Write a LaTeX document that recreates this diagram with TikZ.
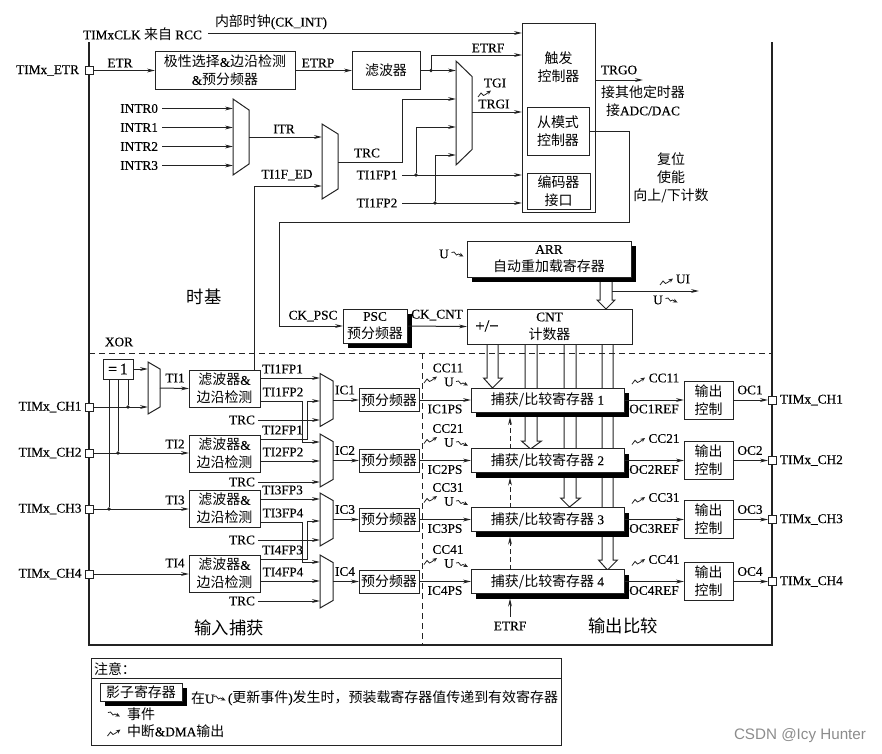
\documentclass[tikz,border=0pt]{standalone}
\usepackage{fontspec}
\setmainfont[FakeBold=0.25]{Liberation Serif}
\newfontfamily\cjk[Scale=1.05]{Noto Sans CJK SC}
\newfontfamily\wmfont{Liberation Sans}
\usetikzlibrary{arrows.meta,shadows}
\definecolor{ink}{RGB}{35,35,35}
\definecolor{wmark}{RGB}{140,140,140}
\newcommand{\zh}[1]{{\cjk #1}}
\tikzset{
  lbl/.style={inner sep=0pt, outer sep=0pt, align=center, text=black, font=\fontsize{13.3}{18}\selectfont},
  ttl/.style={lbl, font=\fontsize{16.5}{20}\selectfont},
  big/.style={lbl, font=\fontsize{16.5}{20}\selectfont},
  wire/.style={ink, line width=1pt},
  sig/.style={wire, -{Stealth[length=8pt,width=3.8pt]}},
  dsig/.style={sig, dashed, dash pattern=on 5pt off 3pt},
  frame/.style={ink, line width=1.3pt},
  dsh/.style={ink, line width=1pt, dash pattern=on 6pt off 4pt},
  blk/.style={lbl, draw=ink, line width=1pt, fill=white},
  shd/.style={blk, drop shadow={shadow xshift=5pt, shadow yshift=-5pt, opacity=1, fill=black}},
  pinbox/.style={draw=ink, line width=1pt, fill=white, inner sep=0pt, outer sep=0pt, minimum size=8pt},
  dotn/.style={circle, fill=ink, inner sep=0pt, outer sep=0pt, minimum size=3.8pt},
  mux/.style={draw=ink, line width=1pt, fill=white},
  icon/.style={ink, line width=0.8pt, -{Stealth[length=4.5pt,width=4pt]}},
}
\newcommand{\muxshape}[5]{%
  \draw[mux] (#1,#3-#4) -- (#2,#3-#5) -- (#2,#3+#5) -- (#1,#3+#4) -- cycle;}
\newcommand{\evtsym}[2]{%
  \draw[icon, shift={(#1,#2)}] (-6,-1.5) -- (-3.5,-2) -- (-1,1) -- (1,0) -- (6,2.5);}
\newcommand{\intsym}[2]{%
  \draw[icon, shift={(#1,#2)}] (-6.5,3) -- (-3.5,-1) -- (-1,1.5) -- (1,0.5) -- (6.5,-3.5);}
\newcommand{\busarr}[4]{%
  \coordinate (bs) at (#1,344);
  \draw[wire] (bs) -- (#1,#3) -- (#1-3.5,#3) -- (#1+5.5,#4) -- (#2+4.5,#3) -- (#2,#3) -- (#2,344);}

\begin{document}
\begin{tikzpicture}[x=1pt, y=-1pt]
  \useasboundingbox (0,0) rectangle (882,753);
  \coordinate (fl) at (89,42); \coordinate (bl) at (89,645);
  \coordinate (br) at (772,645); \coordinate (fr) at (772,42);
  \draw[frame] (fl) -- (bl) -- (br) -- (fr);
  \coordinate (dl) at (89,353); \coordinate (dr) at (772,353);
  \coordinate (dt) at (422,353); \coordinate (db) at (422,645);
  \draw[dsh] (dl) -- (dr);
  \draw[dsh] (dt) -- (db);

  \node[lbl] (clk) at (142.5,34) {TIMxCLK \zh{来自} RCC};
  \node[lbl] (ckint) at (271,22) {\zh{内部时钟}(CK\_INT)};
  \node[blk, minimum width=73, minimum height=189] (trg) at (558.5,117.5) {};
  \node[lbl] (trgtxt) at (558.5,67.5) {\zh{触发}\\\zh{控制器}};
  \node[blk, minimum width=62, minimum height=48] (slv) at (558,131) {\zh{从模式}\\\zh{控制器}};
  \node[blk, minimum width=63, minimum height=36] (enc) at (558.5,191) {\zh{编码器}\\\zh{接口}};
  \coordinate (clks) at (208,33);
  \draw[sig] (clks) -- (clks -| trg.west);

  \node[pinbox] (pine) at (89,70.5) {};
  \node[lbl, anchor=east] (etrpin) at (79,70.5) {TIMx\_ETR};
  \node[blk, minimum width=140, minimum height=38] (pol) at (225,70.5) {\zh{极性选择}\&\zh{边沿检测}\\\&\zh{预分频器}};
  \node[blk, minimum width=68, minimum height=38] (flt) at (386,70.5) {\zh{滤波器}};
  \node[lbl] (etr) at (120,63) {ETR};
  \node[lbl] (etrp) at (318,63) {ETRP};
  \node[lbl] (etrf1) at (488,48) {ETRF};
  \draw[sig] (pine.east) -- (pol.west);
  \draw[sig] (pol.east) -- (flt.west);
  \coordinate (mtin) at (456,113);
  \node[dotn] (detr) at (431,70.5) {};
  \coordinate (etrfy) at (431,55);
  \draw[sig] (flt.east) -- (flt.east -| mtin);
  \draw[sig] (detr) -- (etrfy) -- (etrfy -| trg.west);

  \muxshape{456}{472}{113}{52}{36.5}
  \coordinate (mtout) at (472,112);
  \draw[sig] (mtout) -- (mtout -| trg.west);
  \node[lbl] (tgi) at (495,83) {TGI};
  \node[lbl] (trgi) at (494,104) {TRGI};
  \intsym{484.5}{94}

  \foreach \i/\yy in {0/108.5,1/127.5,2/146.5,3/165.5} {
    \node[lbl, anchor=east] (intr\i) at (158,\yy) {INTR\i};
    \coordinate (mi\i) at (233,\yy);
    \draw[sig] ([xshift=4pt]intr\i.east) -- (mi\i);
  }
  \muxshape{233}{249}{137}{38}{27}
  \coordinate (itrs) at (249,137); \coordinate (itre) at (322,137);
  \draw[sig] (itrs) -- (itre);
  \node[lbl] (itr) at (284,129) {ITR};
  \muxshape{322}{338}{161.5}{37.5}{27.5}
  \node[lbl] (ed) at (287,175) {TI1F\_ED};
  \node[lbl] (trcm) at (367,153) {TRC};
  \coordinate (m3out) at (338,162); \coordinate (trcup) at (402,99);
  \draw[sig] (m3out) -| (trcup) -- (trcup -| mtin);
  \node[lbl] (fp1) at (377,175) {TI1FP1};
  \node[lbl] (fp2) at (377,203) {TI1FP2};
  \draw[sig] ([xshift=5pt]fp1.east) -- (fp1.east -| trg.west);
  \draw[sig] ([xshift=5pt]fp2.east) -- (fp2.east -| trg.west);
  \node[dotn] (dfp1) at (416,175) {};
  \node[dotn] (dfp2) at (435,203) {};
  \coordinate (up1) at (416,127); \coordinate (up2) at (435,155);
  \draw[sig] (dfp1) -- (up1) -- (up1 -| mtin);
  \draw[sig] (dfp2) -- (up2) -- (up2 -| mtin);

  \node[lbl] (trgo) at (619,70) {TRGO};
  \coordinate (trgoe) at (643,80);
  \draw[sig] (trgoe -| trg.east) -- (trgoe);
  \node[lbl] (other) at (643,101) {\zh{接其他定时器}\\\zh{接}ADC/DAC};
  \node[lbl] (modes) at (671,178) {\zh{复位}\\\zh{使能}\\\zh{向上/下计数}};

  \node[shd, minimum width=64, minimum height=34] (psc) at (375,326) {PSC\\\zh{预分频器}};
  \node[shd, minimum width=164, minimum height=36] (arr) at (549,259) {ARR\\\zh{自动重加载寄存器}};
  \node[blk, minimum width=165, minimum height=35] (cnt) at (549.5,326.5) {CNT\\\zh{计数器}};
  \node[big] (updn) at (487,326) {+/−};
  \node[lbl] (uarr) at (444,254) {U};
  \evtsym{457.5}{254}
  \coordinate (fb1) at (629,131); \coordinate (fb2) at (629,222); \coordinate (fb3) at (279,222);
  \draw[sig] (slv.east) -- (fb1) -- (fb2) -- (fb3) |- (psc.west);
  \draw[sig] (psc.east) -- (cnt.west);
  \node[lbl] (ckpsc) at (313,316) {CK\_PSC};
  \node[lbl] (ckcnt) at (437,315) {CK\_CNT};
  \node[ttl] (tb) at (204,297) {\zh{时基}};
  \coordinate (ab) at (600,282);
  \draw[wire] (ab) -- (600,300) -- (597,300) -- (606,309) -- (615,300) -- (612,300) -- (612,282);
  \coordinate (uis) at (612,291); \coordinate (uie) at (699,291);
  \draw[sig] (uis) -- (uie);
  \node[lbl] (ui) at (683,279) {UI};
  \intsym{666.5}{282}
  \node[lbl] (ucnt) at (658,300) {U};
  \evtsym{671.5}{300}

  \node[lbl] (xorl) at (119,342) {XOR};
  \node[blk, font=\fontsize{16}{18}\selectfont, minimum width=30, minimum height=20] (xor) at (118,369) {=\,1};
  \muxshape{148}{160}{388}{26}{19}
  \coordinate (xin) at (148,388); \coordinate (xout) at (160,388);
  \draw[sig] (xor.east) -- (xor.east -| xin);
  \foreach \i/\yy in {1/388.5,2/453.5,3/508.5,4/573.5} {
    \node[blk, minimum width=71, minimum height=37] (flt\i) at (224.5,\yy) {\zh{滤波器}\&\\\zh{边沿检测}};
  }
  \foreach \i/\yy in {1/407,2/453,3/509,4/574} {
    \node[pinbox] (pinl\i) at (89,\yy) {};
    \node[lbl, anchor=east] (chl\i) at (81.5,\yy) {TIMx\_CH\i};
  }
  \foreach \i/\yy in {2/444,3/500,4/563} {
    \node[lbl] (ti\i) at (175,\yy) {TI\i};
    \draw[sig] (pinl\i.east) -- (pinl\i.east -| flt\i.west);
  }
  \node[lbl] (ti1) at (175,378) {TI1};
  \draw[sig] (pinl1.east) -- (pinl1.east -| xin);
  \draw[sig] (xout) -- (flt1.west);
  \node[dotn] (dx1) at (128,407) {};
  \node[dotn] (dx2) at (118,453) {};
  \node[dotn] (dx3) at (109,509) {};
  \foreach \i in {1,2,3} {
    \draw[wire] (dx\i |- xor.south) -- (dx\i);
  }
  \coordinate (edin) at (322,186); \coordinate (edc) at (254,186);
  \draw[sig] (edc |- flt1.north) -- (edc) -- (edin);

  \coordinate (inx) at (320,400);
  \foreach \i/\a/\b/\yu/\yd/\yc in {1/1/2/378/401/420,2/1/2/439/461/482,3/3/4/499/522/540,4/3/4/559/581/601} {
    \coordinate (ou\i) at (260,\yu);
    \coordinate (od\i) at (260,\yd);
    \node[lbl] (fa\i) at (282.5,\yu-9) {TI\i FP\a};
    \node[lbl] (fb\i) at (283,\yd-9) {TI\i FP\b};
    \node[lbl] (trc\i) at (242,\yc) {TRC};
    \draw[sig] ([xshift=3pt]trc\i.east) -- (trc\i.east -| inx);
  }
  \coordinate (cr1) at (302,442); \coordinate (cr2) at (307,401);
  \coordinate (cr3) at (302,562); \coordinate (cr4) at (307,521);
  \draw[sig] (ou1) -- (ou1 -| inx);
  \draw[sig] (od2) -- (od2 -| inx);
  \draw[sig] (ou3) -- (ou3 -| inx);
  \draw[sig] (od4) -- (od4 -| inx);
  \draw[sig] (od1) -| (cr1) -- (cr1 -| inx);
  \draw[sig] (ou2) -| (cr2) -- (cr2 -| inx);
  \draw[sig] (od3) -| (cr3) -- (cr3 -| inx);
  \draw[sig] (ou4) -| (cr4) -- (cr4 -| inx);

  \busarr{487}{498}{378}{388}
  \busarr{525}{537}{441}{449}
  \busarr{564}{576}{498}{507}
  \busarr{602}{613}{560}{570}

  \foreach \i/\yy in {1/400,2/460.5,3/519.5,4/581.5} {
    \muxshape{320}{333}{\yy}{26.5}{19}
    \coordinate (mo\i) at (333,\yy);
    \node[blk, minimum width=60, minimum height=23] (pre\i) at (389,\yy) {\zh{预分频器}};
    \node[shd, minimum width=153, minimum height=24] (reg\i) at (547.5,\yy) {\zh{捕获/比较寄存器} \i};
    \node[blk, minimum width=49, minimum height=38] (oct\i) at (708.5,\yy) {\zh{输出}\\\zh{控制}};
    \node[pinbox] (pinr\i) at (772,\yy) {};
    \node[lbl, anchor=west] (chr\i) at (780,\yy) {TIMx\_CH\i};
    \draw[sig] (mo\i) -- (pre\i.west);
    \draw[sig] (pre\i.east) -- (reg\i.west);
    \draw[sig] (reg\i.east) -- (oct\i.west);
    \draw[sig] (oct\i.east) -- (pinr\i.west);
    \node[lbl] (ic\i) at (345,\yy-10) {IC\i};
    \node[lbl] (ips\i) at (445,\yy+9) {IC\i PS};
    \node[lbl] (ref\i) at (654,\yy+9) {OC\i REF};
    \node[lbl] (oc\i) at (750,\yy-10) {OC\i};
    \node[lbl] (ccr\i) at (664,\yy-22) {CC\i 1};
    \intsym{638.5}{\yy-19}
    \node[lbl] (ccl\i) at (448,\yy-32) {CC\i 1};
    \node[lbl] (ul\i) at (449,\yy-18) {U};
    \intsym{430.5}{\yy-20}
    \evtsym{462}{\yy-17}
  }
  \node[lbl] (etrf2) at (510,626) {ETRF};
  \draw[dsig] (reg2.north -| etrf2.north) -- ([yshift=-5pt]reg1.south -| etrf2.north);
  \draw[dsig] (reg3.north -| etrf2.north) -- ([yshift=-5pt]reg2.south -| etrf2.north);
  \draw[dsig] (reg4.north -| etrf2.north) -- ([yshift=-5pt]reg3.south -| etrf2.north);
  \draw[sig] ([yshift=5pt]etrf2.north) -- ([yshift=-5pt]reg4.south -| etrf2.north);
  \node[ttl] (incap) at (229,628) {\zh{输入捕获}};
  \node[ttl] (outcmp) at (623,626) {\zh{输出比较}};

  \node[blk, minimum width=470, minimum height=87] (note) at (326,701.5) {};
  \coordinate (nsep) at (326,678);
  \draw[wire] (nsep -| note.west) -- (nsep -| note.east);
  \node[lbl] (notet) at (115,669) {\zh{注意：}};
  \node[shd, minimum width=82, minimum height=18] (shreg) at (141,692) {\zh{影子寄存器}};
  \node[lbl, anchor=west] (nt1) at (191,698) {\zh{在}U};
  \evtsym{219.5}{698}
  \node[lbl, anchor=west] (nt2) at (228,698) {(\zh{更新事件})\zh{发生时，预装载寄存器值传递到有效寄存器}};
  \evtsym{114}{714}
  \node[lbl] (nt3) at (141,714) {\zh{事件}};
  \intsym{114}{733}
  \node[lbl, anchor=west] (nt4) at (127,731) {\zh{中断}\&DMA\zh{输出}};
  \node[lbl, anchor=west, text=wmark, font=\wmfont\fontsize{15.2}{17}\selectfont] (wm) at (734,736) {CSDN @Icy Hunter};
\end{tikzpicture}
\end{document}
